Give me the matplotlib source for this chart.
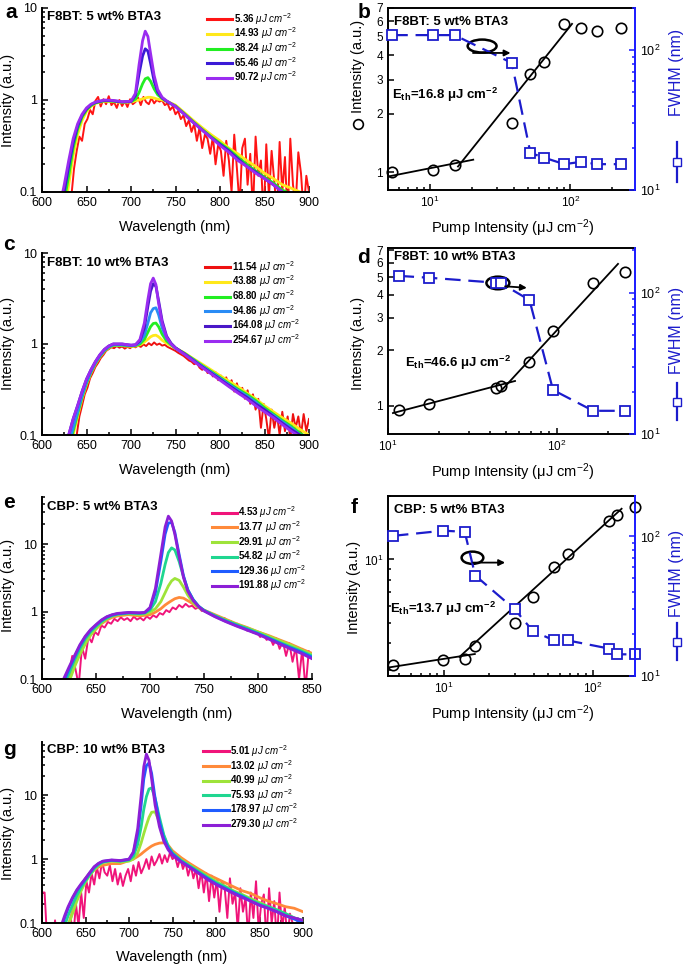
import numpy as np
import matplotlib
matplotlib.use("Agg")
import matplotlib.pyplot as plt
from matplotlib import ticker
from matplotlib.patches import Ellipse
from matplotlib.lines import Line2D

plt.rcParams["font.family"] = ["Liberation Sans", "DejaVu Sans"]
plt.rcParams["mathtext.fontset"] = "custom"
plt.rcParams["mathtext.rm"] = "Liberation Sans"
plt.rcParams["mathtext.it"] = "Liberation Sans:italic"
plt.rcParams["mathtext.bf"] = "Liberation Sans:bold"

W, H = 685, 966
BLUE = "#1c1ccc"

# ---------------- panel a: F8BT 5 wt% ----------------
a_labels = ["5.36", "14.93", "38.24", "65.46", "90.72"]
a_colors = ["#ff1414", "#ffe81a", "#22ee22", "#3b1ad6", "#9a2cf0"]
a_wl = [620, 625, 630, 635, 640, 645, 650, 655, 660, 670, 680, 690, 700, 705, 709, 713, 716, 719, 722, 726,
        730, 735, 740, 750, 760, 770, 780, 790, 800, 810, 820, 830, 840, 850, 860, 870, 880, 890, 900]
a_yellow = [0.04, 0.06, 0.12, 0.25, 0.42, 0.6, 0.75, 0.85, 0.92, 0.97, 0.96, 0.94, 0.95, 0.98, 1.0, 1.03, 1.05, 1.07, 1.07, 1.05,
            1.02, 1.0, 0.97, 0.88, 0.73, 0.6, 0.5, 0.42, 0.36, 0.3, 0.26, 0.22, 0.19, 0.16, 0.14, 0.12, 0.11, 0.1, 0.09]
a_green = [0.05, 0.08, 0.15, 0.3, 0.48, 0.65, 0.78, 0.87, 0.93, 0.98, 0.97, 0.95, 0.96, 1.02, 1.2, 1.5, 1.7, 1.75, 1.6, 1.32,
           1.14, 1.04, 0.97, 0.86, 0.71, 0.58, 0.48, 0.4, 0.34, 0.29, 0.24, 0.2, 0.17, 0.145, 0.125, 0.105, 0.095, 0.085, 0.08]
a_blue = [0.06, 0.1, 0.19, 0.34, 0.52, 0.68, 0.8, 0.89, 0.94, 0.99, 0.98, 0.95, 0.96, 1.12, 1.9, 3.0, 3.6, 3.4, 2.5, 1.6,
          1.22, 1.05, 0.97, 0.85, 0.7, 0.57, 0.47, 0.39, 0.33, 0.28, 0.23, 0.19, 0.165, 0.14, 0.12, 0.1, 0.088, 0.078, 0.07]
a_purple = [0.07, 0.12, 0.22, 0.38, 0.55, 0.7, 0.82, 0.9, 0.95, 1.0, 0.99, 0.96, 0.97, 1.18, 2.4, 4.4, 5.6, 4.9, 3.2, 1.85,
            1.3, 1.07, 0.98, 0.85, 0.7, 0.57, 0.47, 0.39, 0.32, 0.27, 0.22, 0.19, 0.16, 0.14, 0.12, 0.1, 0.085, 0.075, 0.07]
a_red_wl = np.arange(630, 903, 3)
a_red = [0.05, 0.09, 0.18, 0.28, 0.4, 0.36, 0.55, 0.62, 0.78, 0.7, 0.98, 1.08, 0.85, 1.02, 0.9, 1.1, 0.88, 0.95, 0.82, 1.0,
         0.86, 0.97, 0.84, 1.02, 0.9, 0.95, 1.06, 0.88, 1.08, 0.95, 0.9, 1.05, 0.92, 1.0, 0.96, 0.99, 0.88, 0.92, 0.78, 0.85,
         0.7, 0.76, 0.62, 0.68, 0.52, 0.6, 0.45, 0.55, 0.36, 0.5, 0.3, 0.42, 0.38, 0.26, 0.4, 0.2, 0.33, 0.28, 0.15, 0.36,
         0.22, 0.1, 0.42, 0.18, 0.07, 0.3, 0.38, 0.12, 0.26, 0.06, 0.4, 0.15, 0.22, 0.05, 0.33, 0.09, 0.28, 0.13, 0.06, 0.35,
         0.1, 0.24, 0.05, 0.38, 0.12, 0.07, 0.27, 0.16, 0.06, 0.15, 0.1]

# ---------------- panel c: F8BT 10 wt% ----------------
c_labels = ["11.54", "43.88", "68.80", "94.86", "164.08", "254.67"]
c_colors = ["#ee1111", "#ffe81a", "#22ee22", "#2a8cf5", "#4a18c8", "#9a2cf0"]
c_wl = [625, 630, 635, 640, 645, 650, 655, 660, 665, 670, 675, 680, 690, 700, 705, 710, 715, 719, 722, 725, 728,
        731, 735, 740, 745, 750, 760, 770, 780, 790, 800, 810, 820, 830, 840, 850, 860, 870, 880, 890, 900]
c_yellow = [0.05, 0.07, 0.1, 0.16, 0.25, 0.36, 0.48, 0.6, 0.72, 0.83, 0.91, 0.96, 0.96, 0.94, 0.95, 0.98, 1.05, 1.13, 1.2, 1.24, 1.25,
            1.2, 1.1, 1.02, 0.96, 0.9, 0.8, 0.69, 0.6, 0.52, 0.45, 0.39, 0.34, 0.29, 0.25, 0.21, 0.18, 0.155, 0.135, 0.115, 0.1]
c_green = [0.05, 0.07, 0.11, 0.17, 0.26, 0.37, 0.49, 0.61, 0.73, 0.84, 0.92, 0.97, 0.97, 0.95, 0.96, 1.0, 1.12, 1.35, 1.55, 1.68, 1.7,
           1.55, 1.28, 1.08, 0.98, 0.9, 0.79, 0.68, 0.58, 0.5, 0.43, 0.37, 0.32, 0.28, 0.24, 0.2, 0.17, 0.145, 0.125, 0.105, 0.09]
c_lblue = [0.06, 0.08, 0.12, 0.18, 0.27, 0.38, 0.5, 0.62, 0.74, 0.85, 0.93, 0.98, 0.98, 0.96, 0.97, 1.04, 1.25, 1.7, 2.2, 2.45, 2.5,
           2.1, 1.5, 1.15, 1.0, 0.9, 0.78, 0.67, 0.57, 0.49, 0.42, 0.36, 0.31, 0.27, 0.23, 0.19, 0.165, 0.14, 0.12, 0.1, 0.088]
c_indigo = [0.08, 0.1, 0.15, 0.21, 0.3, 0.41, 0.52, 0.64, 0.76, 0.87, 0.95, 1.0, 1.0, 0.97, 0.98, 1.08, 1.5, 2.6, 3.8, 4.6, 4.3,
            3.0, 1.8, 1.22, 1.02, 0.91, 0.78, 0.66, 0.56, 0.48, 0.41, 0.35, 0.3, 0.26, 0.22, 0.19, 0.16, 0.135, 0.115, 0.1, 0.085]
c_violet = [0.08, 0.1, 0.15, 0.21, 0.3, 0.41, 0.52, 0.64, 0.76, 0.87, 0.95, 1.0, 1.0, 0.97, 0.98, 1.12, 1.7, 3.1, 4.6, 5.3, 4.5,
            2.8, 1.7, 1.18, 1.0, 0.9, 0.77, 0.65, 0.55, 0.47, 0.4, 0.34, 0.29, 0.25, 0.21, 0.18, 0.155, 0.13, 0.11, 0.095, 0.08]
c_red_wl = np.arange(636, 903, 3)
c_red = [0.06, 0.1, 0.16, 0.21, 0.28, 0.33, 0.42, 0.48, 0.56, 0.62, 0.7, 0.76, 0.84, 0.88, 0.92, 0.9, 0.95, 0.91, 0.94, 0.89,
         0.93, 0.9, 0.95, 0.92, 0.96, 0.93, 0.99, 0.95, 1.02, 0.97, 1.04, 0.98, 1.01, 0.96, 0.98, 0.93, 0.9, 0.87, 0.84, 0.8,
         0.77, 0.74, 0.7, 0.66, 0.64, 0.6, 0.62, 0.55, 0.52, 0.57, 0.48, 0.5, 0.44, 0.49, 0.4, 0.45, 0.38, 0.43, 0.34, 0.4,
         0.3, 0.37, 0.28, 0.33, 0.25, 0.31, 0.22, 0.28, 0.19, 0.25, 0.12, 0.22, 0.15, 0.09, 0.19, 0.12, 0.17, 0.1, 0.18, 0.11,
         0.16, 0.09, 0.17, 0.12, 0.16, 0.1, 0.17, 0.11, 0.15]

# ---------------- panel e: CBP 5 wt% ----------------
e_labels = ["4.53", "13.77", "29.91", "54.82", "129.36", "191.88"]
e_colors = ["#f0147a", "#ff8a3a", "#9ee33a", "#1fd690", "#1f5cff", "#8c1fd6"]
e_wl = [612, 616, 620, 625, 630, 635, 640, 645, 650, 655, 660, 665, 670, 680, 690, 695, 700, 705, 710, 714,
        717, 720, 723, 727, 731, 735, 740, 745, 750, 760, 770, 780, 790, 800, 810, 820, 830, 840, 850]
e_orange = [0.04, 0.05, 0.07, 0.1, 0.16, 0.24, 0.34, 0.45, 0.55, 0.66, 0.75, 0.82, 0.86, 0.9, 0.86, 0.88, 0.9, 0.98, 1.1, 1.25,
            1.35, 1.45, 1.55, 1.62, 1.58, 1.45, 1.3, 1.15, 1.05, 0.9, 0.77, 0.66, 0.58, 0.5, 0.44, 0.38, 0.33, 0.28, 0.24]
e_lgreen = [0.03, 0.045, 0.06, 0.09, 0.15, 0.23, 0.33, 0.45, 0.56, 0.68, 0.78, 0.86, 0.9, 0.93, 0.9, 0.92, 0.98, 1.1, 1.4, 1.9,
            2.4, 2.85, 3.1, 2.9, 2.3, 1.75, 1.35, 1.15, 1.03, 0.88, 0.75, 0.65, 0.57, 0.5, 0.43, 0.37, 0.32, 0.27, 0.23]
e_teal = [0.03, 0.05, 0.08, 0.12, 0.19, 0.28, 0.39, 0.5, 0.6, 0.71, 0.8, 0.87, 0.91, 0.95, 0.94, 0.95, 1.05, 1.4, 2.6, 5.0,
          7.5, 8.8, 8.2, 5.5, 3.3, 2.1, 1.5, 1.2, 1.05, 0.87, 0.74, 0.64, 0.56, 0.48, 0.41, 0.35, 0.3, 0.26, 0.22]
e_blue = [0.045, 0.065, 0.09, 0.14, 0.21, 0.31, 0.42, 0.53, 0.63, 0.74, 0.83, 0.89, 0.93, 0.96, 0.95, 0.96, 1.12, 1.9, 5.5, 14,
          20.5, 21, 15, 7.0, 3.4, 2.1, 1.5, 1.2, 1.03, 0.85, 0.72, 0.62, 0.54, 0.47, 0.4, 0.34, 0.29, 0.25, 0.21]
e_purple = [0.05, 0.07, 0.1, 0.15, 0.22, 0.32, 0.43, 0.54, 0.64, 0.75, 0.84, 0.9, 0.94, 0.97, 0.96, 0.97, 1.15, 2.2, 7.0, 18,
            26, 22, 14, 6.5, 3.2, 2.0, 1.45, 1.18, 1.02, 0.84, 0.71, 0.61, 0.53, 0.46, 0.39, 0.33, 0.28, 0.24, 0.2]
e_pink_wl = np.arange(616, 851, 3)
e_pink = [0.05, 0.08, 0.06, 0.12, 0.22, 0.14, 0.08, 0.3, 0.2, 0.42, 0.35, 0.5, 0.45, 0.62, 0.58, 0.7, 0.66, 0.78, 0.72, 0.82,
          0.75, 0.8, 0.72, 0.84, 0.76, 0.81, 0.74, 0.85, 0.78, 0.88, 0.82, 0.95, 0.9, 1.05, 0.98, 1.15, 1.08, 1.25, 1.15, 1.3,
          1.18, 1.22, 1.1, 1.15, 1.02, 1.05, 0.95, 0.92, 0.85, 0.86, 0.78, 0.8, 0.7, 0.72, 0.64, 0.66, 0.58, 0.6, 0.52, 0.55,
          0.48, 0.5, 0.42, 0.46, 0.38, 0.42, 0.32, 0.4, 0.28, 0.36, 0.22, 0.34, 0.18, 0.3, 0.1, 0.28, 0.07, 0.26, 0.2]

# ---------------- panel g: CBP 10 wt% ----------------
g_labels = ["5.01", "13.02", "40.99", "75.93", "178.97", "279.30"]
g_colors = e_colors
g_wl = [618, 622, 626, 630, 635, 640, 645, 650, 655, 660, 665, 670, 680, 690, 700, 705, 710, 714, 717, 720, 723,
        726, 730, 735, 740, 745, 750, 760, 770, 780, 790, 800, 810, 820, 830, 840, 850, 860, 870, 880, 890, 900]
g_orange = [0.03, 0.04, 0.05, 0.09, 0.15, 0.25, 0.38, 0.5, 0.6, 0.68, 0.75, 0.8, 0.85, 0.85, 0.95, 1.0, 1.1, 1.2, 1.3, 1.4, 1.5,
            1.6, 1.7, 1.78, 1.8, 1.65, 1.35, 1.05, 0.85, 0.7, 0.58, 0.5, 0.43, 0.37, 0.32, 0.29, 0.25, 0.22, 0.2, 0.18, 0.17, 0.15]
g_lgreen = [0.03, 0.04, 0.06, 0.09, 0.14, 0.22, 0.32, 0.44, 0.56, 0.68, 0.8, 0.88, 0.93, 0.9, 0.93, 1.0, 1.25, 1.8, 2.5, 3.4, 4.5,
            5.4, 5.5, 3.8, 2.3, 1.6, 1.25, 0.97, 0.8, 0.66, 0.54, 0.45, 0.38, 0.32, 0.28, 0.24, 0.21, 0.18, 0.16, 0.14, 0.12, 0.1]
g_teal = [0.04, 0.06, 0.09, 0.13, 0.19, 0.27, 0.36, 0.46, 0.58, 0.71, 0.82, 0.9, 0.95, 0.93, 0.97, 1.1, 1.7, 3.2, 6.0, 9.5, 12.5,
          13, 9.0, 4.5, 2.4, 1.6, 1.25, 0.95, 0.78, 0.64, 0.52, 0.43, 0.37, 0.31, 0.27, 0.23, 0.2, 0.18, 0.16, 0.14, 0.12, 0.11]
g_blue = [0.05, 0.08, 0.12, 0.17, 0.24, 0.32, 0.4, 0.49, 0.61, 0.75, 0.85, 0.92, 0.96, 0.94, 0.99, 1.25, 2.5, 7.0, 18, 29, 32,
          22, 9.0, 3.8, 2.1, 1.5, 1.2, 0.92, 0.75, 0.61, 0.5, 0.41, 0.35, 0.3, 0.26, 0.22, 0.19, 0.17, 0.15, 0.13, 0.115, 0.1]
g_purple = [0.06, 0.09, 0.13, 0.18, 0.25, 0.33, 0.41, 0.5, 0.62, 0.76, 0.86, 0.93, 0.97, 0.95, 1.0, 1.3, 3.0, 10, 28, 44, 35,
            18, 7.0, 3.2, 1.9, 1.4, 1.15, 0.9, 0.74, 0.6, 0.48, 0.4, 0.34, 0.29, 0.25, 0.22, 0.19, 0.17, 0.15, 0.13, 0.12, 0.11]
g_pink_wl = np.arange(600, 903, 3)
g_pink = [0.3, 0.3, 0.05, 0.09, 0.04, 0.11, 0.04, 0.06, 0.03, 0.08, 0.05, 0.12, 0.06, 0.2, 0.09, 0.3, 0.12, 0.45, 0.3, 0.6,
          0.4, 0.75, 0.5, 0.9, 0.62, 0.55, 0.8, 0.45, 0.7, 0.4, 0.6, 0.38, 0.55, 0.7, 0.45, 0.8, 0.55, 0.9, 0.6, 0.75,
          1.0, 0.7, 1.1, 0.8, 0.95, 1.2, 0.85, 1.15, 0.9, 1.25, 1.0, 1.1, 0.75, 1.05, 0.7, 0.9, 0.55, 0.8, 0.5, 0.7,
          0.35, 0.65, 0.3, 0.6, 0.22, 0.55, 0.25, 0.48, 0.15, 0.45, 0.35, 0.12, 0.5, 0.2, 0.3, 0.08, 0.35, 0.15, 0.25, 0.06,
          0.3, 0.12, 0.45, 0.08, 0.2, 0.28, 0.05, 0.35, 0.1, 0.22, 0.05, 0.3, 0.08, 0.18, 0.06, 0.14, 0.1, 0.05, 0.12, 0.08,
          0.1]

# ---------------- panels b, d, f: threshold data ----------------
b_pump = [5.36, 10.4, 14.93, 38.24, 52, 65.46, 90.72, 120, 155, 230]
b_int = [1.0, 1.03, 1.09, 1.8, 3.2, 3.7, 5.8, 5.5, 5.3, 5.5]
b_fwhm = [128, 128, 128, 81, 18.4, 17, 15.3, 15.9, 15.3, 15.3]
b_fit_lo = ([5.0, 20.3], [0.95, 1.16])
b_fit_hi = ([15.8, 103], [1.07, 5.8])

d_pump = [11.54, 17.6, 43.88, 46.6, 68.80, 94.86, 164.08, 254.67]
d_int = [0.95, 1.02, 1.24, 1.27, 1.72, 2.56, 4.62, 5.3]
d_fwhm = [132, 128, 118, 117, 89, 20.5, 14.6, 14.6]
d_fit_lo = ([10.7, 56.5], [0.91, 1.36])
d_fit_hi = ([47, 230], [1.21, 5.9])

f_pump = [4.53, 9.9, 13.77, 16.2, 29.91, 39.5, 54.82, 67.6, 129.36, 146, 191.88]
f_int = [3.16, 3.33, 3.37, 3.89, 5.0, 6.6, 9.2, 10.6, 15.3, 16.2, 17.7]
f_fwhm = [101, 110, 108, 52.5, 30, 21, 18, 18, 15.7, 14.3, 14.3]
f_fit_lo = ([4.2, 16.1], [3.07, 3.56])
f_fit_hi = ([12.7, 156], [3.45, 17.4])


def rect(l, t, r, b):
    return [l / W, 1 - b / H, (r - l) / W, (b - t) / H]


def ftext(x, y, s, **kw):
    fig.text(x / W, 1 - y / H, s, **kw)


def style_axes(ax, size=9):
    for sp in ax.spines.values():
        sp.set_linewidth(1.4)
    ax.tick_params(which="both", direction="in", labelsize=size, width=1.1)
    ax.tick_params(which="major", length=4.5)
    ax.tick_params(which="minor", length=2.5)


def spectra(ax, curves, labels, colors, xmax, ymax, title, title_y, leg_xy):
    lines = []
    for i, ((x, y), lab, col) in enumerate(zip(curves, labels, colors)):
        ln, = ax.plot(x, y, color=col, lw=1.4 if i == 0 else 2.0, solid_joinstyle="round")
        ln.set_label(lab + r" $\mathit{\mu J\ cm^{-2}}$")
        lines.append(ln)
    ax.set_yscale("log")
    ax.set_xlim(600, xmax)
    ax.set_ylim(0.1, ymax)
    ax.spines["top"].set_visible(False)
    ax.spines["right"].set_visible(False)
    ax.xaxis.set_major_locator(ticker.MultipleLocator(50))
    ax.xaxis.set_minor_locator(ticker.MultipleLocator(25))
    ax.yaxis.set_major_locator(ticker.FixedLocator([0.1, 1, 10]))
    ax.yaxis.set_major_formatter(ticker.FuncFormatter(lambda v, _: "%g" % v))
    ax.yaxis.set_minor_formatter(ticker.NullFormatter())
    style_axes(ax)
    ax.text(0.02, title_y, title, transform=ax.transAxes, fontsize=9.5,
            fontweight="bold", va="center", ha="left")
    leg = ax.legend(handles=lines, loc="upper left", bbox_to_anchor=leg_xy, frameon=False,
                    prop={"weight": "bold", "size": 7}, handlelength=2.6, handletextpad=0.15,
                    labelspacing=-0.12, borderpad=0, borderaxespad=0)
    for h in leg.legend_handles:
        h.set_linewidth(2.2)


def threshold(ax, pump, inten, fwhm, fit_lo, fit_hi, xlim, ylim, ylim2, lticks,
              title, title_y, eth, eth_xy, ell, arrow):
    ax.plot(*fit_lo, color="black", lw=1.3)
    ax.plot(*fit_hi, color="black", lw=1.3)
    ax.plot(pump, inten, ls="none", marker="o", ms=7.5, mfc="none", mec="black",
            mew=1.2, clip_on=False)
    ax.set_xscale("log")
    ax.set_yscale("log")
    ax.set_xlim(*xlim)
    ax.set_ylim(*ylim)
    if lticks:
        ax.yaxis.set_major_locator(ticker.FixedLocator(lticks))
        ax.yaxis.set_major_formatter(ticker.FuncFormatter(lambda v, _: "%g" % v))
        ax.yaxis.set_minor_locator(ticker.NullLocator())
    ax.yaxis.set_minor_formatter(ticker.NullFormatter())
    ax.xaxis.set_minor_formatter(ticker.NullFormatter())
    style_axes(ax, 8.5)
    ax.spines["right"].set_visible(False)

    ax2 = ax.twinx()
    ax2.plot(pump, fwhm, color=BLUE, lw=1.6, ls=(0, (7, 3.5)), marker="s", ms=6.5,
             mfc="white", mec=BLUE, mew=1.3, clip_on=False)
    ax2.set_yscale("log")
    ax2.set_ylim(*ylim2)
    for k in ["left", "top", "bottom"]:
        ax2.spines[k].set_visible(False)
    ax2.spines["right"].set_color("#1a1aff")
    ax2.spines["right"].set_linewidth(1.4)
    ax2.tick_params(which="both", direction="in", colors="#1a1aff", labelcolor="black",
                    labelsize=9, width=1.1)
    ax2.tick_params(which="major", length=4.5)
    ax2.tick_params(which="minor", length=2.5)
    ax2.yaxis.set_minor_formatter(ticker.NullFormatter())

    ax.text(0.025, title_y, title, transform=ax.transAxes, fontsize=9.5,
            fontweight="bold", va="center", ha="left", zorder=5)
    ax.text(eth_xy[0], eth_xy[1], eth, transform=ax.transAxes, fontsize=9.5,
            fontweight="bold", va="center", ha="left")
    ax2.add_patch(Ellipse(ell[:2], ell[2], ell[3], transform=ax.transAxes, fill=False,
                          ec="black", lw=1.8))
    ax2.annotate("", xy=arrow[1], xytext=arrow[0], xycoords="axes fraction",
                 arrowprops=dict(arrowstyle="-|>", color="black", lw=1.3,
                                 mutation_scale=9, shrinkA=0, shrinkB=0))


def fwhm_label(x, yc, y0, y1):
    ftext(x, yc, "FWHM (nm)", rotation=90, ha="center", va="center", color=BLUE, fontsize=11.5)
    ym = (y0 + y1) / 2
    fig.add_artist(Line2D([x / W] * 3, [1 - y0 / H, 1 - ym / H, 1 - y1 / H],
                          transform=fig.transFigure, color=BLUE, lw=1.6, marker="s",
                          markevery=[1], ms=6, mfc="white", mec=BLUE))


fig = plt.figure(figsize=(W / 100, H / 100), dpi=100)

axa = fig.add_axes(rect(42, 8, 309, 192))
spectra(axa, [(a_red_wl, a_red), (a_wl, a_yellow), (a_wl, a_green), (a_wl, a_blue), (a_wl, a_purple)],
        a_labels, a_colors, 900, 10, "F8BT: 5 wt% BTA3", 0.951, (0.618, 0.984))

axc = fig.add_axes(rect(42, 253, 309, 435))
spectra(axc, [(c_red_wl, c_red), (c_wl, c_yellow), (c_wl, c_green), (c_wl, c_lblue), (c_wl, c_indigo),
              (c_wl, c_violet)],
        c_labels, c_colors, 900, 10, "F8BT: 10 wt% BTA3", 0.943, (0.61, 0.967))

axe = fig.add_axes(rect(42, 497, 312, 679))
spectra(axe, [(e_pink_wl, e_pink), (e_wl, e_orange), (e_wl, e_lgreen), (e_wl, e_teal), (e_wl, e_blue),
              (e_wl, e_purple)],
        e_labels, e_colors, 850, 50, "CBP: 5 wt% BTA3", 0.947, (0.628, 0.959))

axg = fig.add_axes(rect(42, 742, 303, 923))
spectra(axg, [(g_pink_wl, g_pink), (g_wl, g_orange), (g_wl, g_lgreen), (g_wl, g_teal), (g_wl, g_blue),
              (g_wl, g_purple)],
        g_labels, g_colors, 900, 68, "CBP: 10 wt% BTA3", 0.956, (0.618, 0.994))

axb = fig.add_axes(rect(388, 8, 635, 190))
threshold(axb, b_pump, b_int, b_fwhm, b_fit_lo, b_fit_hi, (5.0, 290), (0.81, 7.0), (10, 200),
          [1, 2, 3, 4, 5, 6, 7], "F8BT: 5 wt% BTA3", 0.925,
          r"E$_{\mathbf{th}}$=16.8 μJ cm$^{\mathbf{-2}}$", (0.016, 0.52),
          (0.381, 0.791, 0.117, 0.071), ((0.344, 0.753), (0.496, 0.753)))

axd = fig.add_axes(rect(388, 248, 635, 434))
threshold(axd, d_pump, d_int, d_fwhm, d_fit_lo, d_fit_hi, (10, 290), (0.7, 7.2), (10, 208),
          [1, 2, 3, 4, 5, 6, 7], "F8BT: 10 wt% BTA3", 0.953,
          r"E$_{\mathbf{th}}$=46.6 μJ cm$^{\mathbf{-2}}$", (0.07, 0.38),
          (0.445, 0.812, 0.093, 0.068), ((0.474, 0.794), (0.562, 0.786)))

axf = fig.add_axes(rect(388, 496, 635, 676))
threshold(axf, f_pump, f_int, f_fwhm, f_fit_lo, f_fit_hi, (4.2, 192), (2.8, 20), (10, 195),
          None, "CBP: 5 wt% BTA3", 0.92,
          r"E$_{\mathbf{th}}$=13.7 μJ cm$^{\mathbf{-2}}$", (0.01, 0.37),
          (0.342, 0.657, 0.088, 0.068), ((0.345, 0.63), (0.474, 0.63)))

# axis labels
for x, y in [(175, 227), (175, 470), (177, 714), (172, 957)]:
    ftext(x, y, "Wavelength (nm)", ha="center", va="center", fontsize=10.5)
for y in [100, 343, 585, 833]:
    ftext(8, y, "Intensity (a.u.)", rotation=90, ha="center", va="center", fontsize=10.5)
for y in [228, 472, 714]:
    ftext(513, y, r"Pump Intensity (μJ cm$^{-2}$)", ha="center", va="center", fontsize=10.5)
for x, y in [(358, 66), (358, 343), (354, 587)]:
    ftext(x, y, "Intensity (a.u.)", rotation=90, ha="center", va="center", fontsize=10.5)
fig.add_artist(Line2D([358 / W], [1 - 124 / H], transform=fig.transFigure, ls="none",
                      marker="o", ms=7, mfc="none", mec="black", mew=1.2))
fwhm_label(677, 72, 142, 182)
fwhm_label(677, 330, 383, 420)
fwhm_label(677, 573, 623, 660)

# panel letters
for s, x, y in [("a", 11, 18), ("b", 364, 18), ("c", 9, 250), ("d", 364, 263),
                ("e", 9, 508), ("f", 354, 513), ("g", 9, 755)]:
    ftext(x, y, s, ha="center", va="baseline", fontsize=15, fontweight="bold")

fig.savefig("out.png", dpi=100)
